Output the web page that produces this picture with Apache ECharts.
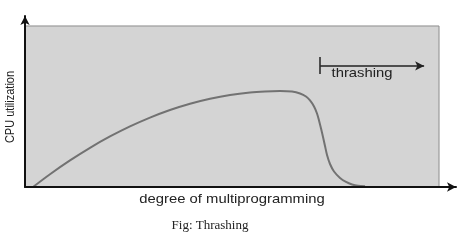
<!DOCTYPE html>
<html>
<head>
<meta charset="utf-8">
<script src="https://cdn.jsdelivr.net/npm/echarts@6/dist/echarts.min.js"></script>
<style>
html,body{margin:0;padding:0;background:#fff;}
#c{width:474px;height:244px;}
</style>
</head>
<body>
<div id="c"></div>
<script>
// Curve: degree of multiprogramming (x, 0..100 across box) vs CPU utilization (y, 0..100 of box height)
var degree = [1.93, 6.04, 10.87, 15.70, 20.53, 25.36, 30.19, 35.02, 39.86, 44.69, 49.52, 54.35, 57.97, 61.59, 64.49, 66.43, 67.87, 68.84, 69.81, 70.53, 71.01, 71.50, 71.98, 72.46, 72.95, 73.67, 74.64, 76.09, 77.54, 78.99, 80.43, 82.13];
var cpuUtil = [0, 7.95, 16.52, 24.35, 31.37, 37.64, 43.11, 47.83, 51.74, 54.84, 57.20, 58.76, 59.38, 59.63, 59.25, 58.07, 56.21, 53.73, 50.00, 45.65, 41.30, 36.34, 31.06, 25.47, 19.88, 14.29, 9.63, 5.59, 3.11, 1.55, 0.75, 0.43];
// Thrashing annotation (data units)
var thrashStart = 71.3, thrashEnd = 96.4, thrashY = 75.2, tickLow = 70.2, tickHigh = 80.7;
var boxMax = 100;
var xLabel = 'degree of multiprogramming';
var yLabel = 'CPU utilization';
var annotation = 'thrashing';
var caption = 'Fig: Thrashing';

var pts = degree.map(function(d, i){ return [d, cpuUtil[i]]; });

var chart = echarts.init(document.getElementById('c'), null, {renderer:'canvas'});
function txt(s, x, y, font, extra){
  var o = {type: 'text', x: x, y: y, z: 10,
    style: {text: s, font: font, fill: '#222',
            align: 'center', verticalAlign: 'middle', textAlign: 'center', textVerticalAlign: 'middle'}};
  for (var k in extra) o[k] = extra[k];
  return o;
}
chart.setOption({
  animation: false,
  backgroundColor: '#ffffff',
  grid: {left: 25, right: 18, top: 16, bottom: 57},
  xAxis: {
    type: 'value', min: 0, max: 104.1, z: 5,
    axisLine: {show: true, symbol: ['none', 'arrow'], symbolSize: [7, 9], lineStyle: {color: '#111', width: 2}},
    axisTick: {show: false}, axisLabel: {show: false}, splitLine: {show: false}
  },
  yAxis: {
    type: 'value', min: 0, max: 106.2, z: 5,
    axisLine: {show: true, symbol: ['none', 'arrow'], symbolSize: [7, 9], lineStyle: {color: '#111', width: 2}},
    axisTick: {show: false}, axisLabel: {show: false}, splitLine: {show: false}
  },
  series: [{
    type: 'line',
    data: pts,
    smooth: 0.3,
    showSymbol: false,
    lineStyle: {color: '#727272', width: 2},
    z: 3,
    markArea: {
      silent: true,
      itemStyle: {color: '#d4d4d4', borderColor: '#8c8c8c', borderWidth: 1},
      data: [[{coord: [0, 0]}, {coord: [boxMax, boxMax]}]]
    },
    markLine: {
      silent: true,
      animation: false,
      label: {show: false},
      lineStyle: {color: '#222', width: 1.5, type: 'solid'},
      data: [
        [{coord: [thrashStart, thrashY], symbol: 'none'}, {coord: [thrashEnd, thrashY], symbol: 'arrow', symbolSize: [7, 9]}],
        [{coord: [thrashStart, tickLow], symbol: 'none'}, {coord: [thrashStart, tickHigh], symbol: 'none'}]
      ]
    }
  }],
  graphic: [
    txt(annotation, 362, 73, '13px "Liberation Sans", Arial, sans-serif', {scaleX: 1.14}),
    txt(xLabel, 232, 199, '13px "Liberation Sans", Arial, sans-serif', {scaleX: 1.14}),
    txt(yLabel, 10, 107, '11px "Liberation Sans", Arial, sans-serif', {rotation: Math.PI / 2, scaleY: 1.2}),
    txt(caption, 210, 226, '13px "Liberation Serif", "Times New Roman", serif', {})
  ]
});
</script>
</body>
</html>
